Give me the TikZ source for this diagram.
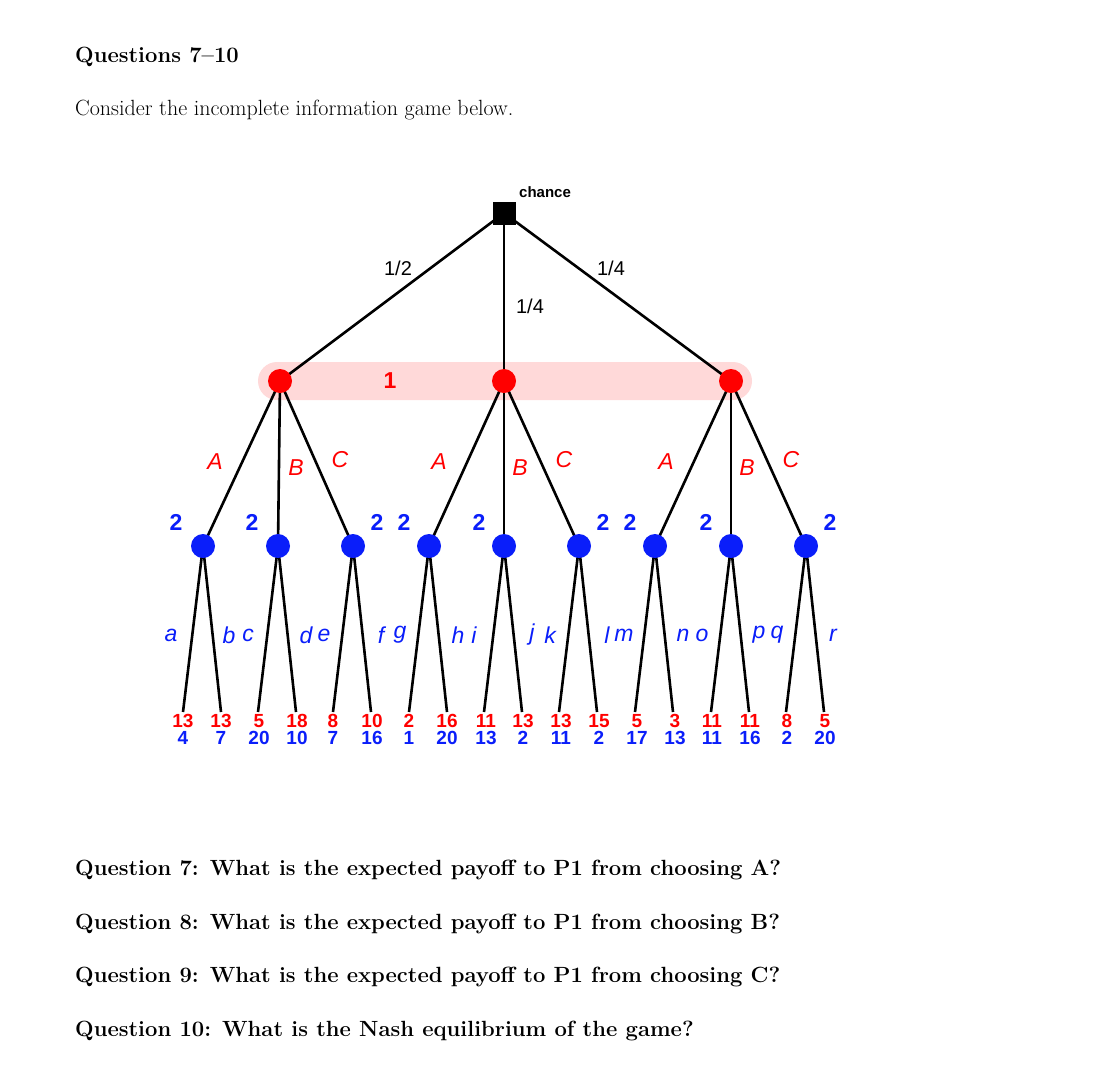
\documentclass[tikz,border=0pt]{standalone}
\usepackage{fontspec}
\newfontfamily\arial{Liberation Sans}
\begin{document}
\begin{tikzpicture}[x=1pt,y=-1pt,
 edge/.style={line width=2.6pt},
 pone/.style={circle,fill=red,minimum size=24pt,inner sep=0},
 ptwo/.style={circle,fill={rgb,255:red,10;green,30;blue,250},minimum size=24pt,inner sep=0},
 act/.style={text=red,font=\arial\itshape\fontsize{23}{23}\selectfont},
 lact/.style={text={rgb,255:red,10;green,30;blue,250},font=\arial\itshape\fontsize{23}{23}\selectfont},
 plab/.style={text={rgb,255:red,10;green,30;blue,250},font=\arial\bfseries\fontsize{23}{23}\selectfont},
 prob/.style={font=\arial\fontsize{20}{20}\selectfont},
 pr/.style={text=red,font=\arial\bfseries\fontsize{19}{19}\selectfont,inner sep=0},
 pb/.style={text={rgb,255:red,10;green,30;blue,250},font=\arial\bfseries\fontsize{19}{19}\selectfont,inner sep=0},
 q/.style={anchor=west,font=\bfseries\fontsize{22}{26}\selectfont,inner sep=0}]
\useasboundingbox[fill=white] (0,0) rectangle (1107,1085);
\node[q] (t1) at (75,57) {Questions 7--10};
\node[q,font=\fontsize{22}{26}\selectfont] (t2) at (75,110) {Consider the incomplete information game below.};
\node[q] (q7) at (75,870) {Question 7: What is the expected payoff to P1 from choosing A?};
\node[q] (q8) at (75,924) {Question 8: What is the expected payoff to P1 from choosing B?};
\node[q] (q9) at (75,977) {Question 9: What is the expected payoff to P1 from choosing C?};
\node[q] (q10) at (75,1031) {Question 10: What is the Nash equilibrium of the game?};
% info set band
\fill[red!15,rounded corners=19pt] (258,362) rectangle (752,400);
\node[font=\arial\bfseries\fontsize{23}{23}\selectfont,text=red] (one) at (390,381) {1};
% chance
\coordinate (c) at (504,213);
\node[font=\arial\bfseries\fontsize{15}{15}\selectfont] (cl) at (545,192) {chance};
\coordinate (n1) at (280,381);
\coordinate (n2) at (504,381);
\coordinate (n3) at (731,381);
\draw[edge] (c) -- (n1);
\draw[edge] (c) -- (n2);
\draw[edge] (c) -- (n3);
\node[prob] (pa) at (398,268) {1/2};
\node[prob] (pb) at (530,306) {1/4};
\node[prob] (pc) at (611,268) {1/4};
% P2 nodes
\foreach \i/\x/\lx in {1/203/176,2/278/252,3/353/377,4/429/404,5/504/479,6/579/603,7/655/630,8/731/706,9/806/830}{
  \coordinate (m\i) at (\x,546);
  \node[plab] (l\i) at (\lx,522) {2};
}
\foreach \p/\a/\b/\cc in {n1/1/2/3,n2/4/5/6,n3/7/8/9}{
  \draw[edge] (\p) -- (m\a);
  \draw[edge] (\p) -- (m\b);
  \draw[edge] (\p) -- (m\cc);
}
\node[pone] (r1) at (n1) {};\node[pone] (r2) at (n2) {};\node[pone] (r3) at (n3) {};
\node[fill=black,minimum size=23pt,inner sep=0] (cn) at (c) {};
\foreach \d in {0,224,451}{
  \node[act] at (215+\d,462) {A};
  \node[act,fill=white,inner sep=1pt] at (296+\d,468) {B};
  \node[act] at (340+\d,460) {C};
}
% leaves
\foreach \i/\x in {1/203,2/278,3/353,4/429,5/504,6/579,7/655,8/731,9/806}{
  \coordinate (u\i) at (\x-20,712);
  \coordinate (v\i) at (\x+18,712);
  \draw[edge] (m\i) -- (u\i);
  \draw[edge] (m\i) -- (v\i);
  \node[ptwo] (p2n\i) at (m\i) {};
}
\foreach \t/\x in {a/171,b/229,c/248,d/306,e/324,f/381,g/400,h/458,i/474,j/532,k/550,l/607,m/624,n/683,o/702,p/759,q/777,r/833}{
  \node[lact] at (\x,635) {\t};
}
\foreach \r/\bb/\x [count=\k] in {13/4/183,13/7/221,5/20/259,18/10/297,8/7/333,10/16/372,2/1/409,16/20/447,11/13/486,13/2/523,13/11/561,15/2/599,5/17/637,3/13/675,11/11/712,11/16/750,8/2/787,5/20/825}{
  \node[pr] at (\x,721) {\r};
  \node[pb] at (\x,738) {\bb};
}
\end{tikzpicture}
\end{document}
